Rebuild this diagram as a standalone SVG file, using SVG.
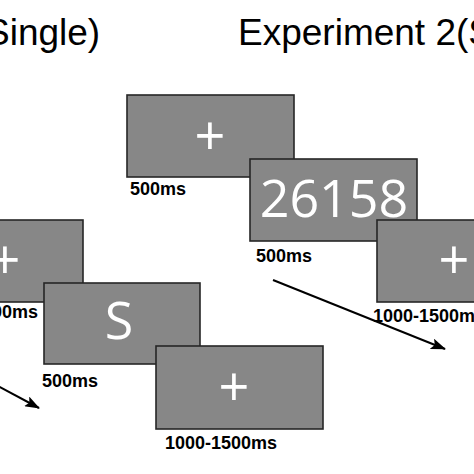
<svg xmlns="http://www.w3.org/2000/svg" width="474" height="474" viewBox="0 0 474 474">
<defs>
<style>
.scr{fill:#878787;stroke:#262626;stroke-width:1.6}
.stim{font-family:"Open Sans","DejaVu Sans",sans-serif;fill:#ffffff;text-anchor:middle}
.plus{font-size:54px}
.lbl{font-family:"Liberation Sans",Arial,sans-serif;font-weight:bold;font-size:18px;fill:#000}
.title{font-family:"Liberation Sans",Arial,sans-serif;font-size:37px;fill:#000}
.arr{stroke:#000;stroke-width:2;fill:none}
</style>
<marker id="ah" viewBox="0 0 15 11" refX="14" refY="5.5" markerWidth="15" markerHeight="11" markerUnits="userSpaceOnUse" orient="auto">
<path d="M0,0 L15,5.5 L0,11 L3,5.5 Z" fill="#000"/>
</marker>
</defs>
<rect width="474" height="474" fill="#ffffff"/>
<text class="title" x="-15" y="45">Single)</text>
<text class="title" x="238" y="45">Experiment 2(S</text>

<g id="connectors">
<line class="arr" x1="-4" y1="385" x2="39" y2="408" marker-end="url(#ah)"/>
<line class="arr" x1="273" y1="280" x2="445" y2="349" marker-end="url(#ah)"/>
</g>

<g id="exp1-fix1">
<rect class="scr" x="-90" y="220" width="173" height="82"/>
<text class="stim plus" x="5" y="279">+</text>
<text class="lbl" x="-18" y="318">500ms</text>
</g>
<g id="exp1-stim">
<rect class="scr" x="44" y="283" width="156" height="81"/>
<text class="stim" x="119" y="339" font-size="52">S</text>
<text class="lbl" x="42" y="387">500ms</text>
</g>
<g id="exp1-fix2">
<rect class="scr" x="156" y="346" width="167" height="83"/>
<text class="stim plus" x="234" y="406">+</text>
<text class="lbl" x="165" y="449">1000-1500ms</text>
</g>

<g id="exp2-fix1">
<rect class="scr" x="127" y="95" width="167" height="82"/>
<text class="stim plus" x="210" y="155">+</text>
<text class="lbl" x="130" y="195">500ms</text>
</g>
<g id="exp2-stim">
<rect class="scr" x="250" y="159" width="167" height="82"/>
<text class="stim" x="334" y="217" font-size="52">26158</text>
<text class="lbl" x="256" y="262">500ms</text>
</g>
<g id="exp2-fix2">
<rect class="scr" x="377" y="220" width="170" height="82"/>
<text class="stim plus" x="454" y="279">+</text>
<text class="lbl" x="373" y="322">1000-1500ms</text>
</g>
</svg>
